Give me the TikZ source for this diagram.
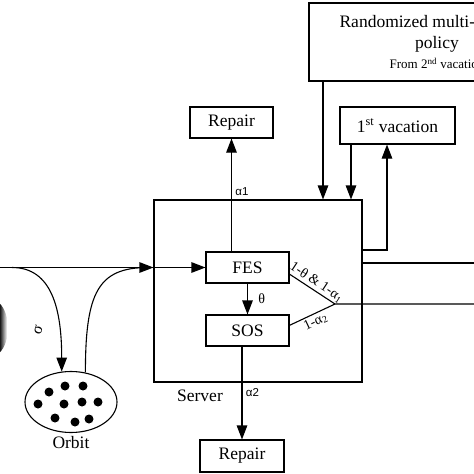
\documentclass[tikz,border=0pt]{standalone}
\usepackage{fontspec}
\setmainfont{Liberation Serif}
\newfontfamily\labsans{Liberation Sans}
\usetikzlibrary{arrows.meta,shapes.geometric,positioning}
\tikzset{
  box/.style={draw, minimum width=83pt, minimum height=31pt, inner sep=0pt,
    font=\fontsize{17.5}{20}\selectfont},
  arr/.style={-{Triangle[length=14pt,width=10.5pt]}},
  lab/.style={font=\fontsize{14}{16}\selectfont},
  salab/.style={font=\labsans\fontsize{11.5}{13}\selectfont},
  big/.style={font=\fontsize{17.5}{20}\selectfont}
}

\begin{document}
\begin{tikzpicture}[x=1pt,y=-1pt,line width=1.1pt]
\useasboundingbox (0,0) rectangle (474,474);
\clip (0,0) rectangle (474,474);

% source, cut off at the left edge
\begin{scope}
\clip (-8,328) ellipse (16 and 28);
\shade[left color=black!90,right color=white] (0,300) rectangle (7,356);
\end{scope}

% boxes
\node[box, minimum width=256pt, minimum height=78pt, align=center] (rand) at (437,42)
  {Randomized multi-vacation\\[1pt] policy\\ {\fontsize{13}{15}\selectfont From 2\textsuperscript{nd} vacation}};
\node[box] (reptop) at (231.5,122.5) {Repair};
\node[box, minimum width=115pt, minimum height=37pt] (vac) at (397.5,125.5) {1\textsuperscript{st} vacation};
\node[draw, minimum width=208pt, minimum height=182pt] (server) at (258,291) {};
\node[box] (fes) at (247.5,267.5) {FES};
\node[box] (sos) at (247.5,330.5) {SOS};
\node[box, minimum width=84pt, minimum height=32pt] (repbot) at (242,456) {Repair};
\node[big] (srvlab) at (200,396) {Server};

% orbit
\node[draw, ellipse, minimum width=92pt, minimum height=61pt, inner sep=0pt] (orbit) at (71,402) {};
\foreach \x/\y in {49/392, 65/386, 83/386, 38/404, 64/404, 82/402, 98/402, 55/418, 75/422, 89/419}
  \fill (\x,\y) circle (4.5);
\node[big] (orblab) at (71,443) {Orbit};

% points
\coordinate (src) at (0,267.5);
\coordinate (split) at (12,267.5);
\coordinate (merge) at (148,267.5);
\coordinate (apex) at (335,304);
\coordinate (outA) at (474,263);
\coordinate (outB) at (474,304);
\coordinate (back) at (387,250);
\coordinate (drop) at (323,0);
\coordinate (vdrop) at (351,0);

% arrivals and retrials
\draw[arr] (src) -- (server.west |- src);
\draw[arr] (server.west |- src) -- (fes.west);
\draw[arr] (split) .. controls +(40,0) and +(0,-62) .. (orbit.107);
\draw (orbit.64) .. controls +(0,-80) and +(-50,0) .. (merge);
\node[font=\fontsize{16}{18}\selectfont, rotate=70] (sig) at (38,330) {σ};

% vacations
\draw[arr] (rand.south -| drop) -- (server.north -| drop);
\draw[arr] (vac.south -| vdrop) -- (server.north -| vdrop);
\draw[arr] (server.east |- back) -- (back) -- (vac.south -| back);
\draw (server.east |- outA) -- (outA);

% inside the server
\draw[arr] (reptop.south |- fes.north) -- node[salab, pos=0.53, right] {α1} (reptop.south);
\draw[arr] (fes) -- node[lab, right=7pt] {θ} (sos);
\draw[arr] (repbot.north |- sos.south) -- node[salab, pos=0.49, right] {α2} (repbot.north);
\draw (fes.-9) -- node[lab, sloped, above, inner sep=1.5pt] {1-θ \& 1-α\textsubscript{1}} (apex) -- (outB);
\draw (sos.7.5) -- node[lab, sloped, below, inner sep=1.5pt] {1-α\textsubscript{2}} (apex);
\end{tikzpicture}
\end{document}
